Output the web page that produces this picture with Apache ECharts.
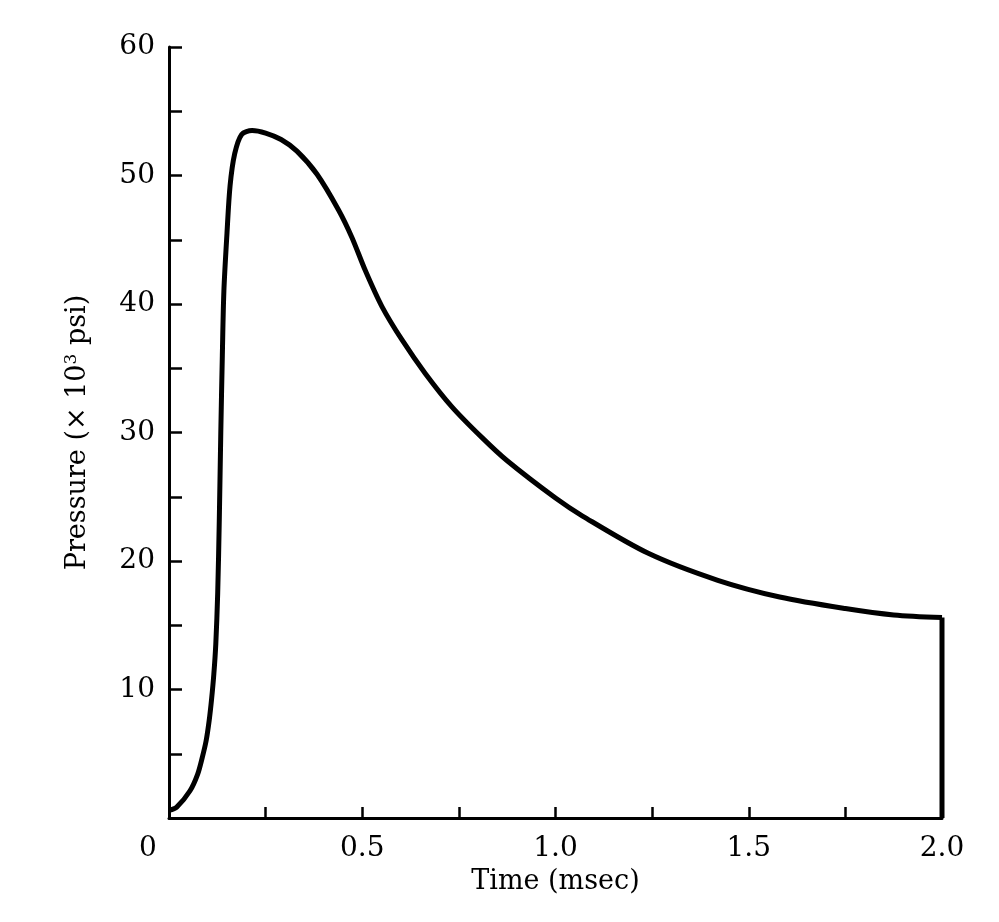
<!DOCTYPE html>
<html>
<head>
<meta charset="utf-8">
<script src="https://cdn.jsdelivr.net/npm/echarts@6/dist/echarts.min.js"></script>
<style>
  html, body { margin: 0; padding: 0; background: #fff; }
  #container { width: 999px; height: 922px; }
</style>
</head>
<body>
<div id="container"></div>
<script>
// time in msec and pressure in 10^3 psi
const timeMs = [0, 0.02, 0.054, 0.074, 0.086, 0.096, 0.104, 0.11, 0.116, 0.121, 0.126, 0.13,
  0.134, 0.138, 0.142, 0.15, 0.158, 0.17, 0.188, 0.215, 0.25, 0.29, 0.331, 0.383, 0.439, 0.473,
  0.508, 0.551, 0.603, 0.663, 0.732, 0.81, 0.875, 1.0, 1.07, 1.24, 1.42, 1.58, 1.75, 1.875, 2.0];
const pressure = [0.6, 0.85, 2.1, 3.4, 4.7, 6.0, 7.6, 9.2, 11.2, 13.5, 17.5, 23,
  30, 36, 41, 45.5, 49.2, 51.7, 53.2, 53.5, 53.3, 52.8, 51.9, 50.1, 47.3, 45.2,
  42.6, 39.8, 37.2, 34.6, 32.0, 29.6, 27.8, 24.9, 23.5, 20.6, 18.5, 17.2, 16.3, 15.8, 15.6];
// pressure is released at the end of the record
const dropTime = [2.0, 2.0];
const dropPressure = [15.6, 0];

const xTickLabels = ["0", "0.5", "1.0", "1.5", "2.0"];
const yTickLabels = ["10", "20", "30", "40", "50", "60"];

const font = "DejaVu Serif";
const dom = document.getElementById("container");
const myChart = echarts.init(dom, null, { renderer: "canvas" });

const option = {
  animation: false,
  grid: {
    left: 169,
    right: 57,
    top: 47,
    bottom: 104,
  },
  xAxis: {
    type: "value",
    min: 0,
    max: 2,
    interval: 0.25,
    name: "Time (msec)",
    nameLocation: "middle",
    nameGap: 50,
    nameTextStyle: { fontFamily: font, fontSize: 27, color: "#000" },
    axisLine: { lineStyle: { color: "#000", width: 3 } },
    axisTick: { inside: true, length: 11, lineStyle: { color: "#000", width: 2.5 } },
    splitLine: { show: false },
    axisLabel: {
      margin: 17,
      fontFamily: font,
      fontSize: 28,
      color: "#000",
      formatter: (v) => {
        const s = v === 0 ? "0" : v.toFixed(1);
        if (!xTickLabels.includes(s)) return "";
        return v === 0 ? "{o|0}" : s;
      },
      rich: {
        o: { fontFamily: font, fontSize: 28, color: "#000", padding: [0, 42, 0, 0] },
      },
    },
  },
  yAxis: {
    type: "value",
    min: 0,
    max: 60,
    interval: 5,
    name: "Pressure (× 10{sup|3} psi)",
    nameLocation: "middle",
    nameGap: 77,
    nameTextStyle: {
      fontFamily: font,
      fontSize: 27,
      color: "#000",
      rich: {
        sup: { fontFamily: font, fontSize: 17, color: "#000", verticalAlign: "top", padding: [0, 0, 12, 0] },
      },
    },
    axisLine: { lineStyle: { color: "#000", width: 3 } },
    axisTick: { inside: true, length: 13, lineStyle: { color: "#000", width: 2.5 } },
    splitLine: { show: false },
    axisLabel: {
      margin: 14,
      fontFamily: font,
      fontSize: 28,
      color: "#000",
      formatter: (v) => (yTickLabels.includes(String(v)) ? String(v) : ""),
    },
  },
  series: [
    {
      type: "line",
      smooth: 0.3,
      symbol: "none",
      lineStyle: { color: "#000", width: 5 },
      data: timeMs.map((t, i) => [t, pressure[i]]),
    },
    {
      type: "line",
      symbol: "none",
      lineStyle: { color: "#000", width: 5 },
      data: dropTime.map((t, i) => [t, dropPressure[i]]),
    },
  ],
};

myChart.setOption(option);
window.addEventListener("resize", myChart.resize);
</script>
</body>
</html>
